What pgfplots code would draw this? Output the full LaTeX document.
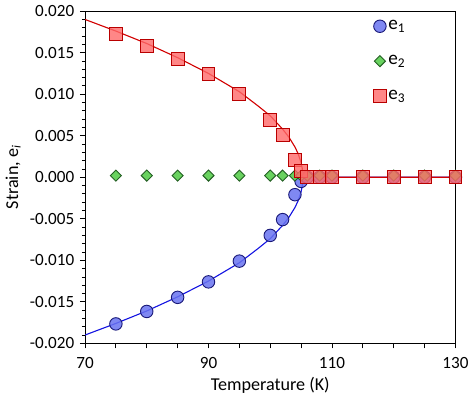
\documentclass[border=0pt]{standalone}
\usepackage{pgfplots}
\pgfplotsset{compat=1.18}
\usepackage{fontspec}
\setmainfont{Carlito}
\definecolor{redfill}{RGB}{255,105,105}
\definecolor{rededge}{RGB}{185,0,0}
\definecolor{redline}{RGB}{210,0,0}
\definecolor{bluefill}{RGB}{105,115,240}
\definecolor{blueedge}{RGB}{25,25,120}
\definecolor{blueline}{RGB}{20,20,225}
\definecolor{greenfill}{RGB}{105,210,95}
\definecolor{greenedge}{RGB}{35,95,35}
\begin{document}
\fontsize{16.5}{20}\selectfont
\begin{tikzpicture}
\begin{axis}[
  scale only axis,
  width=368pt, height=330pt,
  xmin=70, xmax=130, ymin=-0.020, ymax=0.020,
  scaled y ticks=false,
  xtick={70,75,...,130},
  xticklabels={70,,,,90,,,,110,,,,130},
  ytick={-0.020,-0.015,-0.010,-0.005,0,0.005,0.010,0.015,0.020},
  yticklabels={-0.020,-0.015,-0.010,-0.005,0.000,0.005,0.010,0.015,0.020},
  minor y tick num=4,
  tick align=outside,
  xtick pos=bottom, ytick pos=left,
  major tick length=5pt, minor tick length=3pt,
  every tick/.style={black, thick},
  every minor tick/.style={black, thick},
  axis line style={black, thick},
  xticklabel style={font=\fontsize{17}{20}\selectfont, yshift=-3pt},
  yticklabel style={font=\fontsize{17}{20}\selectfont},
  xlabel={Temperature (K)},
  ylabel={Strain, e\textsubscript{\itshape i}},
  label style={font=\fontsize{18}{22}\selectfont},
  xlabel style={yshift=2pt},
  ylabel style={yshift=-2pt},
  legend style={draw=none, fill=none, at={(0.77,0.985)}, anchor=north west,
    font=\fontsize{19}{22}\selectfont, row sep=19pt,
    legend cell align=left},
  legend image code/.code={\draw[#1] plot coordinates {(0.3cm,0cm)};},
]
% fitted curves
\addplot[blueline, line width=1.1pt, forget plot] coordinates {
 (70,-0.0190) (75,-0.0176) (80,-0.0161) (85,-0.0144) (90,-0.0125)
 (95,-0.0103) (98,-0.0086) (100,-0.0074) (101,-0.0066) (102,-0.0058)
 (103,-0.00485) (104,-0.00365) (104.5,-0.00286) (105,-0.00175)
 (105.2,-0.0010) (105.3,0) (130,0)};
\addplot[redline, line width=1.1pt, forget plot] coordinates {
 (70,0.0190) (75,0.0176) (80,0.0161) (85,0.0144) (90,0.0125)
 (95,0.0103) (98,0.0086) (100,0.0074) (101,0.0066) (102,0.0058)
 (103,0.00485) (104,0.00365) (104.5,0.00286) (105,0.00175)
 (105.2,0.0010) (105.3,0) (130,0)};
% data
\addplot[only marks, mark=*, mark size=6.2pt,
  mark options={fill=bluefill, draw=blueedge, fill opacity=0.85, line width=0.9pt}]
 coordinates {
 (75,-0.01766) (80,-0.01616) (85,-0.01446) (90,-0.0126) (95,-0.0101)
 (100,-0.0070) (102,-0.0051) (104,-0.0021) (105,-0.0005) (106,0)
 (108,0) (110,0) (115,0) (120,0) (125,0) (130,0)};
\addlegendentry{e\textsubscript{1}}
\addplot[only marks, mark=square*, mark size=3.9pt,
  mark options={rotate=45, fill=greenfill, draw=greenedge, line width=0.9pt}]
 coordinates {
 (75,0.0002) (80,0.0002) (85,0.0002) (90,0.0002) (95,0.0002)
 (100,0.0002) (102,0.0002) (104,0.0002) (105,0.0002) (106,0.0002)
 (108,0.0002) (110,0.0002) (115,0.0002) (120,0.0002) (125,0.0002) (130,0.0002)};
\addlegendentry{e\textsubscript{2}}
\addplot[only marks, mark=square*, mark size=6.4pt,
  mark options={fill=redfill, draw=rededge, fill opacity=0.8, line width=0.9pt}]
 coordinates {
 (75,0.01725) (80,0.01584) (85,0.01422) (90,0.0124) (95,0.0100)
 (100,0.00695) (102,0.00505) (104,0.0021) (105,0.0008) (106,0)
 (108,0) (110,0) (115,0) (120,0) (125,0) (130,0)};
\addlegendentry{e\textsubscript{3}}
\end{axis}
\end{tikzpicture}
\end{document}
